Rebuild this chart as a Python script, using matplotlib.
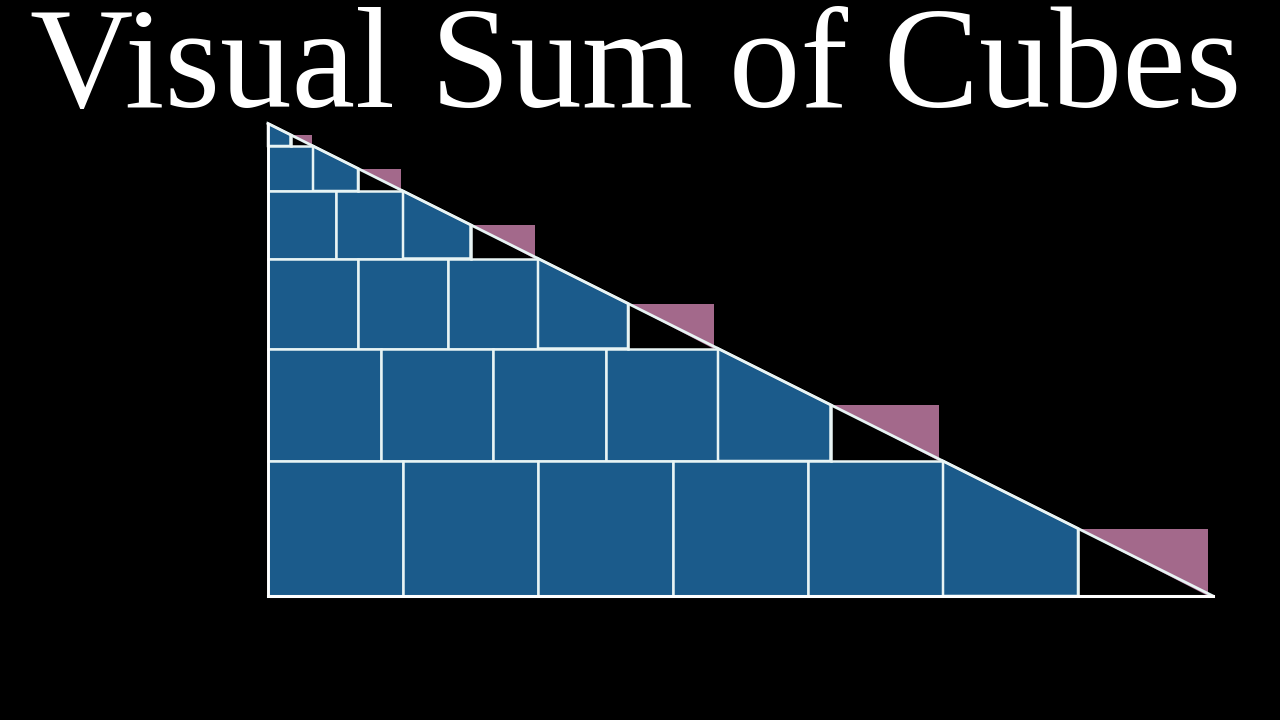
import matplotlib
matplotlib.use("Agg")
import matplotlib.pyplot as plt
from matplotlib.patches import Polygon

title = "Visual Sum of Cubes"
rows = [1, 2, 3, 4, 5, 6]
blue = "#1b5b8b"
pink = "#a3698b"
edge = "#e8f4f4"

fig = plt.figure(figsize=(12.8, 7.2), dpi=100, facecolor="black")
ax = fig.add_axes([0, 0, 1, 1], facecolor="black")
ax.set_xlim(-268/22.5, (1280-268)/22.5)
ax.set_ylim((596-720)/22.5, 596/22.5)
ax.axis("off")

total = sum(rows)
for n in rows:
    base = sum(k for k in rows if k > n)
    top = base + n
    for i in range(n - 1):
        ax.add_patch(Polygon([(i*n, base), ((i+1)*n, base), ((i+1)*n, top), (i*n, top)],
                             closed=True, fc=blue, ec=edge, lw=1.8))
    x0 = n*(n-1); x1 = n*n; mid = top - n/2
    ax.add_patch(Polygon([(x0, base), (x1, base), (x1, mid), (x0, top)],
                         closed=True, fc=blue, ec=edge, lw=1.8))
    ax.add_patch(Polygon([(x1, mid), (x1+n*0.96, mid), (x1+n*0.96, base)],
                         closed=True, fc=pink, ec="none"))
    ax.plot([x1, x1], [base, mid], color=edge, lw=1.8)

W = 2*total
ax.plot([0, W], [total, 0], color=edge, lw=2)
ax.plot([0, W], [0, 0], color="white", lw=2.2)
ax.plot([0, 0], [0, total], color="white", lw=2)

fig.text(0.497, 1-107/720, title, color="white", ha="center", va="baseline",
         fontsize=103, family="Liberation Serif", weight="bold" if False else "normal")
fig.savefig("out.png", dpi=100, facecolor="black")
